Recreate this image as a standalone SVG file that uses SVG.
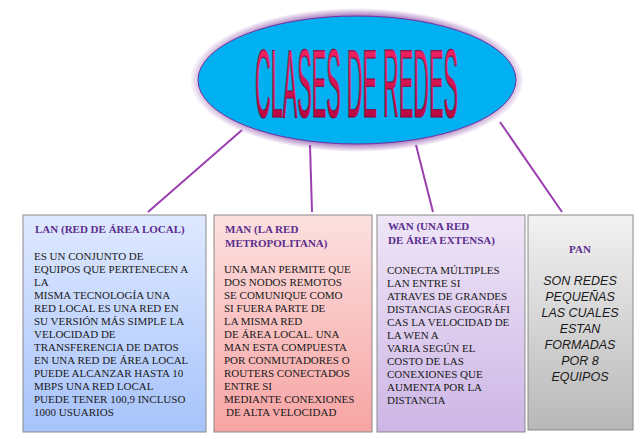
<svg xmlns="http://www.w3.org/2000/svg" width="640" height="439" viewBox="0 0 640 439">
<defs>
<radialGradient id="glow" cx="50%" cy="50%" r="50%"><stop offset="85%" stop-color="#8a4aa8"/><stop offset="100%" stop-color="#8a4aa8" stop-opacity="0"/></radialGradient>
<linearGradient id="gLan" x1="0" y1="0" x2="0" y2="1"><stop offset="0" stop-color="#dfe9ff"/><stop offset="1" stop-color="#a7c3fb"/></linearGradient>
<linearGradient id="gMan" x1="0" y1="0" x2="0" y2="1"><stop offset="0" stop-color="#fde0e0"/><stop offset="1" stop-color="#f7a4a4"/></linearGradient>
<linearGradient id="gWan" x1="0" y1="0" x2="0" y2="1"><stop offset="0" stop-color="#efe6f7"/><stop offset="1" stop-color="#cdb6e6"/></linearGradient>
<linearGradient id="gPan" x1="0" y1="0" x2="0" y2="1"><stop offset="0" stop-color="#f2f2f2"/><stop offset="1" stop-color="#b8b8b8"/></linearGradient>
<linearGradient id="gTitle" x1="0" y1="0" x2="0" y2="1"><stop offset="0" stop-color="#ff2a6a"/><stop offset="1" stop-color="#a8003a"/></linearGradient>
</defs>
<style>
.box{stroke:#8a8a8a;stroke-width:1}
.h{font-family:'Liberation Serif','DejaVu Serif',serif;font-weight:bold;font-size:11px;fill:#5b2d8e}
.t{font-family:'Liberation Serif','DejaVu Serif',serif;font-size:11px;fill:#1a1a1a}
.p{font-family:'Liberation Sans',sans-serif;font-style:italic;font-size:12.5px;fill:#1a1a1a;text-anchor:middle}
.c{stroke:#9b3fb0;stroke-width:2;fill:none}
.ti{font-family:'Liberation Sans',sans-serif;font-size:96px}
</style>
<g id="connectors">
<line class="c" x1="242" y1="130" x2="148" y2="212"/>
<line class="c" x1="310" y1="145" x2="312" y2="212"/>
<line class="c" x1="416" y1="145" x2="433" y2="212"/>
<line class="c" x1="500" y1="122" x2="562" y2="212"/>
</g>
<g id="title">
<ellipse cx="357" cy="80" rx="167" ry="72" fill="url(#glow)"/>
<ellipse cx="357" cy="80" rx="159" ry="64" fill="#00b0f0" stroke="#7030a0" stroke-width="1"/>
<text class="ti" x="255" y="117" fill="url(#gTitle)" stroke="#8a0035" stroke-width="1" textLength="203" lengthAdjust="spacingAndGlyphs">CLASES DE REDES</text>
</g>
<g id="lan">
<rect class="box" x="23" y="215" width="183" height="217" fill="url(#gLan)"/>
<text class="h" x="35" y="233">LAN (RED DE ÁREA LOCAL)</text>
<text class="t" x="34" y="260">ES UN CONJUNTO DE</text>
<text class="t" x="34" y="273">EQUIPOS QUE PERTENECEN A</text>
<text class="t" x="34" y="286">LA</text>
<text class="t" x="34" y="299">MISMA TECNOLOGÍA  UNA</text>
<text class="t" x="34" y="312">RED LOCAL ES UNA RED EN</text>
<text class="t" x="34" y="325">SU VERSIÓN MÁS SIMPLE LA</text>
<text class="t" x="34" y="338">VELOCIDAD DE</text>
<text class="t" x="34" y="351">TRANSFERENCIA DE DATOS</text>
<text class="t" x="34" y="364">EN UNA RED DE ÁREA LOCAL</text>
<text class="t" x="34" y="377">PUEDE ALCANZAR HASTA 10</text>
<text class="t" x="34" y="390">MBPS UNA RED LOCAL</text>
<text class="t" x="34" y="403">PUEDE TENER 100,9 INCLUSO</text>
<text class="t" x="34" y="416">1000 USUARIOS</text>
</g>
<g id="man">
<rect class="box" x="214" y="215" width="158" height="217" fill="url(#gMan)"/>
<text class="h" x="225" y="233">MAN (LA RED</text>
<text class="h" x="225" y="247">METROPOLITANA)</text>
<text class="t" x="224" y="273">UNA MAN PERMITE QUE</text>
<text class="t" x="224" y="286">DOS NODOS REMOTOS</text>
<text class="t" x="224" y="299">SE COMUNIQUE  COMO</text>
<text class="t" x="224" y="312">SI FUERA PARTE DE</text>
<text class="t" x="224" y="325">LA MISMA RED</text>
<text class="t" x="224" y="338">DE ÁREA LOCAL. UNA</text>
<text class="t" x="224" y="351">MAN ESTA COMPUESTA</text>
<text class="t" x="224" y="364">POR CONMUTADORES O</text>
<text class="t" x="224" y="377">ROUTERS CONECTADOS</text>
<text class="t" x="224" y="390">ENTRE SI</text>
<text class="t" x="224" y="403">MEDIANTE CONEXIONES</text>
<text class="t" x="226" y="416">DE ALTA VELOCIDAD</text>
</g>
<g id="wan">
<rect class="box" x="377" y="215" width="148" height="217" fill="url(#gWan)"/>
<text class="h" x="388" y="230">WAN (UNA RED</text>
<text class="h" x="388" y="244">DE ÁREA EXTENSA)</text>
<text class="t" x="387" y="274">CONECTA MÚLTIPLES</text>
<text class="t" x="387" y="287">LAN ENTRE SI</text>
<text class="t" x="387" y="300">ATRAVES DE GRANDES</text>
<text class="t" x="387" y="313">DISTANCIAS GEOGRÁFI</text>
<text class="t" x="387" y="326">CAS LA VELOCIDAD DE</text>
<text class="t" x="387" y="339">LA WEN A</text>
<text class="t" x="387" y="352">VARIA SEGÚN EL</text>
<text class="t" x="387" y="365">COSTO  DE LAS</text>
<text class="t" x="387" y="378">CONEXIONES QUE</text>
<text class="t" x="387" y="391">AUMENTA POR LA</text>
<text class="t" x="387" y="404">DISTANCIA</text>
</g>
<g id="pan">
<rect class="box" x="528" y="215" width="105" height="215" fill="url(#gPan)" stroke="#333"/>
<text class="h" x="580" y="253" text-anchor="middle">PAN</text>
<text class="p" x="580" y="285">SON REDES</text>
<text class="p" x="580" y="301">PEQUEÑAS</text>
<text class="p" x="580" y="317">LAS CUALES</text>
<text class="p" x="580" y="333">ESTAN</text>
<text class="p" x="580" y="349">FORMADAS</text>
<text class="p" x="580" y="365">POR 8</text>
<text class="p" x="580" y="381">EQUIPOS</text>
</g>
</svg>
